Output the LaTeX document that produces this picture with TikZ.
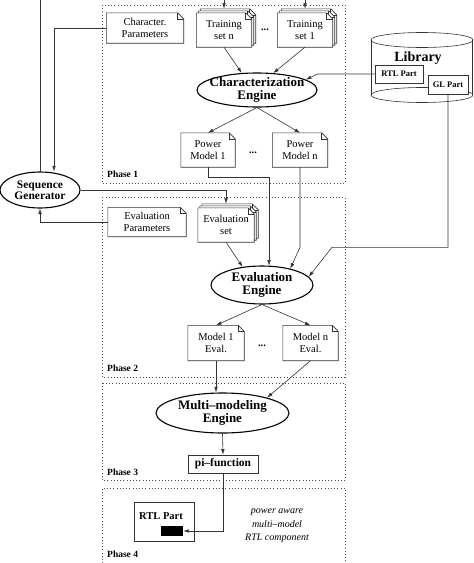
\documentclass[tikz,border=0pt]{standalone}
\usepackage{fontspec}
\setmainfont{Liberation Serif}
\usepackage{tikz}
\usetikzlibrary{shapes,arrows,arrows.meta}
\usetikzlibrary{shapes.geometric, positioning}
\newcommand\bodyfont{\fontsize{10.5}{12.5}\selectfont}
\tikzstyle{doc} = [minimum width=55, minimum height=34, inner sep=0pt, align=center, font=\bodyfont]
\tikzstyle{note} = [doc, minimum width=77, minimum height=30]
\tikzstyle{engine} = [draw=black, line width=1.1pt, ellipse, inner sep=-10pt, align=center, font=\fontsize{13}{12.5}\selectfont\bfseries]
\tikzstyle{part} = [draw=black!80, fill=white, line width=0.6pt, inner sep=0pt, font=\fontsize{8.5}{10}\selectfont\bfseries]
\tikzstyle{dots} = [inner sep=0pt, font=\bodyfont\bfseries]
\tikzstyle{phase} = [draw=black!70, line width=0.8pt, dash pattern=on 0.8pt off 2.4pt]
\tikzstyle{phaselabel} = [anchor=west, inner sep=0pt, font=\fontsize{9.5}{11}\selectfont\bfseries]
\tikzstyle{docline} = [draw=black!80, line width=0.6pt]
\tikzstyle{wire} = [draw=black!80, line width=0.6pt, ->]
\def\foldsize{6}
% outline of a page with a folded corner, shifted up and right by #2
\newcommand\docshape[2]{%
    \path[docline, fill=white] ([shift={(#2,-#2)}]#1.north west) -- ([shift={(#2-\foldsize,-#2)}]#1.north east)
        -- ([shift={(#2,-#2+\foldsize)}]#1.north east) -- ([shift={(#2,-#2)}]#1.south east)
        -- ([shift={(#2,-#2)}]#1.south west) -- cycle;
    \path[docline] ([shift={(#2-\foldsize,-#2)}]#1.north east) |- ([shift={(#2,-#2+\foldsize)}]#1.north east);}
\pgfdeclarelayer{background}
\pgfsetlayers{background,main}

\begin{document}
\begin{tikzpicture}[x=1pt, y=-1pt, >={Latex[length=5.5pt,width=3.6pt]}]
    \useasboundingbox (0,0) rectangle (474,563);
    \clip (0,0) rectangle (474,563);

    \node (seqgen) [engine, minimum width=80, minimum height=36, font=\fontsize{11.5}{11}\selectfont\bfseries] at (40,190) {Sequence\\Generator};

    % Phase 1
    \path (seqgen)+(105,-162) node (charparams) [note] {Character.\\Parameters};
    \path (charparams)+(79,2) node (trainn) [doc] {Training\\set n};
    \path (trainn)+(41,0) node (dots1) [dots] {...};
    \path (trainn)+(81,0) node (train1) [doc] {Training\\set 1};
    \path (trainn)+(33,60) node (charengine) [engine, minimum width=120, minimum height=34] {Characterization\\Engine};
    \path (charengine)+(-49,60) node (pm1) [doc, minimum width=54] {Power\\Model 1};
    \path (charengine)+(-4,63) node (dots2) [dots] {...};
    \path (charengine)+(43,60) node (pmn) [doc] {Power\\Model n};

    % Library
    \coordinate (lib) at (422,67.5);
    \draw[docline] (lib) +(-51,-27.5) -- +(-51,27.5) +(50.5,-27.5) -- +(50.5,27.5);
    \draw[docline] (lib) +(0,-27.5) ellipse [x radius=51pt, y radius=7.5pt];
    \draw[docline] (lib) +(0,27.5) ellipse [x radius=51pt, y radius=7.5pt];
    \path (lib)+(-4,-9.5) node (libname) [font=\fontsize{14}{16}\selectfont\bfseries] {Library};
    \path (lib)+(-23,6.5) node (rtllib) [part, minimum width=48, minimum height=18] {RTL Part};
    \path (lib)+(26,17) node (gllib) [part, minimum width=40, minimum height=19] {GL Part};

    % Phase 2
    \path (seqgen)+(107,32) node (evalparams) [note, minimum width=78, minimum height=29] {Evaluation\\Parameters};
    \path (evalparams)+(79,3) node (evalset) [doc, minimum width=56] {Evaluation\\set};
    \path (evalset)+(36,60) node (evalengine) [engine, minimum width=102, minimum height=38] {Evaluation\\Engine};
    \path (evalengine)+(-46,58) node (m1eval) [doc, minimum width=56, minimum height=35] {Model 1\\Eval.};
    \path (evalengine)+(0,61) node (dots3) [dots] {...};
    \path (evalengine)+(48.5,58) node (mneval) [doc, minimum height=35] {Model n\\Eval.};

    % Phase 3
    \path (m1eval)+(6.5,70) node (multiengine) [engine, minimum width=133, minimum height=40] {Multi--modeling\\Engine};
    \path (multiengine)+(0.5,51) node (pifunc) [part, minimum width=70, minimum height=18, font=\fontsize{11.5}{13}\selectfont\bfseries] {pi--function};

    % Phase 4
    \path (pifunc)+(-59,57.5) node (rtlpart) [part, minimum width=60, minimum height=39] {};
    \path (rtlpart)+(-3,-5.5) node (rtlname) [font=\fontsize{10.5}{12}\selectfont\bfseries] {RTL Part};
    \path (rtlpart)+(8,9.5) node (port) [fill=black, minimum width=22, minimum height=10, inner sep=0pt] {};
    \path (rtlpart)+(113,4.5) node (comment) [align=center, font=\fontsize{10}{13.5}\selectfont\itshape] {power aware\\multi--model\\RTL component};

    \node [phaselabel] at (107,174) {Phase 1};
    \node [phaselabel] at (107,368) {Phase 2};
    \node [phaselabel] at (107,472) {Phase 3};
    \node [phaselabel] at (107,554) {Phase 4};

    \begin{pgfonlayer}{background}
        \path[phase] (102,5) rectangle (345,183);
        \path[phase] (102,197) rectangle (345,377);
        \path[phase] (102,383) rectangle (345,480);
        \path[phase] (102,563) |- (345,488) -- (345,563);
        \foreach \s in {4,2,0}
        {
            \docshape{trainn}{\s}
            \docshape{train1}{\s}
            \docshape{evalset}{\s}
        }
        \foreach \n in {charparams,pm1,pmn,evalparams,m1eval,mneval}
        {
            \docshape{\n}{0}
        }
    \end{pgfonlayer}

    \path [wire] (seqgen.north) |- ([yshift=16pt]trainn.north) -- ([yshift=4pt]trainn.north);
    \path [wire] ([yshift=16pt]trainn.north) -| ([yshift=4pt]train1.north);
    \path [wire] (charparams.west) -| ([xshift=14pt]seqgen.north);
    \path [wire] (evalparams.west) -| (seqgen.south);
    \path [wire] (seqgen.east) -| ([yshift=4pt]evalset.north);

    \path [wire] (trainn.south) -- (charengine.132);
    \path [wire] (train1.south) -- (charengine.46);
    \path [wire] (rtllib.west) -- ++(-57,0) -- (charengine.12);
    \foreach \m in {pm1,pmn}
    {
        \path [wire] (charengine.south) -- (\m.north);
    }

    \path [wire] (evalset.south) -- (evalengine.137);
    \path [wire] (pm1.south) -- ++(0,10) -| (evalengine.70);
    \path [wire] (pmn.south) -- ++(0,80) -- (evalengine.30);
    \path [wire] (gllib.south) -- ++(0,153) -- ++(-116,0) -- (evalengine.10);
    \foreach \m in {m1eval,mneval}
    {
        \path [wire] (evalengine.south) -- (\m.north);
    }

    \path [wire] (m1eval.south) -- (m1eval.south |- multiengine.north);
    \path [wire] (mneval.south) -- (multiengine.19);
    \path [wire] (multiengine.south) -- (pifunc.north);
    \path [wire] (pifunc.south) |- (port.east);
\end{tikzpicture}
\end{document}
